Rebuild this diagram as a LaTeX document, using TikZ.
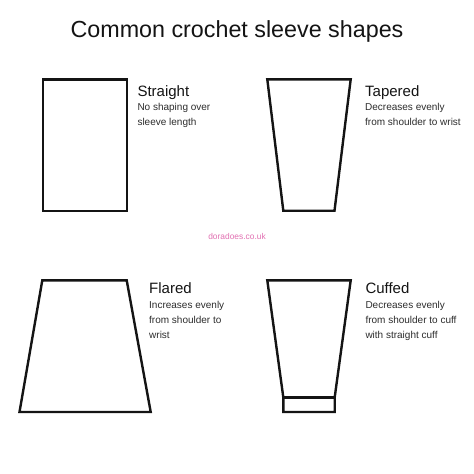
\documentclass[tikz,border=0pt]{standalone}
\usepackage{fontspec}
\setmainfont{Liberation Sans}
\definecolor{ink}{RGB}{20,20,20}
\definecolor{desc}{RGB}{45,45,45}
\definecolor{wm}{RGB}{226,112,178}
\begin{document}
\begin{tikzpicture}[x=1pt,y=-1pt,
  sleeve/.style={draw=ink,line width=2.4pt,line join=miter},
  head/.style={anchor=base west,inner sep=0pt,font=\fontsize{15}{18}\selectfont,text=ink},
  note/.style={anchor=base west,inner sep=0pt,font=\fontsize{10}{12}\selectfont,text=desc}]
\useasboundingbox[fill=white] (0,0) rectangle (474,474);
\node[anchor=base,inner sep=0pt,font=\fontsize{23.3}{28}\selectfont,text=ink] (title) at (237,37.5) {Common crochet sleeve shapes};
% Straight
\draw[sleeve] (43,79.3) rectangle (126.7,210.7);
\node[head] (h1) at (137.3,96.7) {Straight};
\node[note] (n1a) at (137.3,110.8) {No shaping over};
\node[note] (n1b) at (137.3,125.6) {sleeve length};
% Tapered
\draw[sleeve] (267.3,79.3) -- (350.7,79.3) -- (334.5,210.7) -- (283.3,210.7) -- cycle;
\node[head] (h2) at (365,96.7) {Tapered};
\node[note] (n2a) at (365,110.8) {Decreases evenly};
\node[note] (n2b) at (365,125.6) {from shoulder to wrist};
% watermark
\node[anchor=center,inner sep=0pt,font=\fontsize{8.4}{10}\selectfont,text=wm] (wm) at (237,236.5) {doradoes.co.uk};
% Flared
\draw[sleeve] (42.3,280.3) -- (126.7,280.3) -- (150.7,412) -- (19.5,412) -- cycle;
\node[head] (h3) at (149,293.3) {Flared};
\node[note] (n3a) at (149,308.3) {Increases evenly};
\node[note] (n3b) at (149,323.3) {from shoulder to};
\node[note] (n3c) at (149,338.3) {wrist};
% Cuffed
\draw[sleeve] (267.3,280.3) -- (350.7,280.3) -- (334.7,397.3) -- (334.7,412) -- (283.3,412) -- (283.3,397.3) -- cycle;
\draw[sleeve] (283.3,397.3) -- (334.7,397.3);
\node[head] (h4) at (365.3,293.3) {Cuffed};
\node[note] (n4a) at (365.3,308.3) {Decreases evenly};
\node[note] (n4b) at (365.3,323.3) {from shoulder to cuff};
\node[note] (n4c) at (365.3,338.3) {with straight cuff};
\end{tikzpicture}
\end{document}
